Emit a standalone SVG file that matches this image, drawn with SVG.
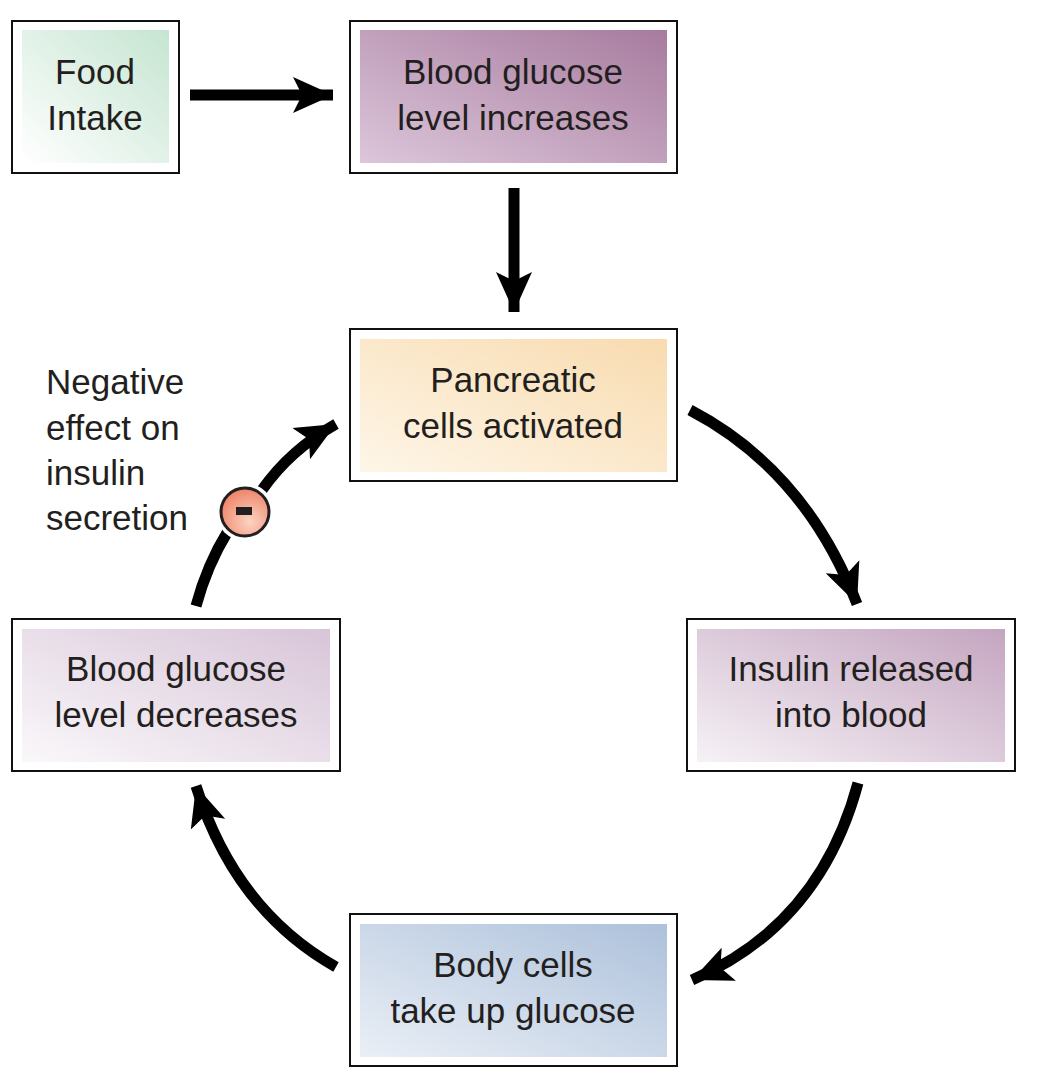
<svg xmlns="http://www.w3.org/2000/svg" width="1047" height="1080" viewBox="0 0 1047 1080">
<style>
.outer{fill:#fff;stroke:#111;stroke-width:2}
.t{font-family:"Liberation Sans",Arial,sans-serif;font-size:35px;fill:#231f20;text-anchor:middle}
.c{fill:none;stroke:#000;stroke-width:11}
</style>
<defs>
<marker id="ah" markerUnits="userSpaceOnUse" markerWidth="44" markerHeight="40" refX="40" refY="20" orient="auto"><path d="M0,2 L40,20 L0,38 L9,20 Z" fill="#000"/></marker>
<linearGradient id="gG" x1="0" y1="1" x2="1" y2="0"><stop offset="0" stop-color="#fff"/><stop offset="1" stop-color="#c5e5d1"/></linearGradient>
<linearGradient id="gP" x1="0" y1="1" x2="1" y2="0"><stop offset="0" stop-color="#dcc6da"/><stop offset="1" stop-color="#a77b9e"/></linearGradient>
<linearGradient id="gY" x1="0" y1="1" x2="1" y2="0"><stop offset="0" stop-color="#fef6e8"/><stop offset="1" stop-color="#f8dbaf"/></linearGradient>
<linearGradient id="gI" x1="0" y1="1" x2="1" y2="0"><stop offset="0" stop-color="#f6f2f6"/><stop offset="1" stop-color="#c4a5c0"/></linearGradient>
<linearGradient id="gB" x1="0" y1="1" x2="1" y2="0"><stop offset="0" stop-color="#eaeff6"/><stop offset="1" stop-color="#adc1db"/></linearGradient>
<linearGradient id="gD" x1="0" y1="1" x2="1" y2="0"><stop offset="0" stop-color="#faf8fa"/><stop offset="1" stop-color="#d8c5d8"/></linearGradient>
<radialGradient id="gM" cx="0.6" cy="0.7" r="0.7"><stop offset="0" stop-color="#fcd3c2"/><stop offset="1" stop-color="#ee8468"/></radialGradient>
</defs>
<rect width="1047" height="1080" fill="#fff"/>
<g id="connectors">
<path class="c" d="M190,95 H333" marker-end="url(#ah)"/>
<path class="c" d="M514,188 V312" marker-end="url(#ah)"/>
<path class="c" d="M690,410 Q805,470 857,604" marker-end="url(#ah)"/>
<path class="c" d="M858,783 Q820,925 692,980" marker-end="url(#ah)"/>
<path class="c" d="M336,967 Q235,910 196,786" marker-end="url(#ah)"/>
<path class="c" d="M196,606 Q207,565 228,531"/>
<path class="c" d="M262,490 Q290,450 336,424" marker-end="url(#ah)"/>
</g>
<g id="food"><rect class="outer" x="12" y="21" width="167" height="152"/><rect x="22" y="30" width="147" height="133" fill="url(#gG)"/><text class="t" x="95" y="84">Food</text><text class="t" x="95" y="130">Intake</text></g>
<g id="increase"><rect class="outer" x="350" y="21" width="327" height="152"/><rect x="360" y="30" width="307" height="133" fill="url(#gP)"/><text class="t" x="513" y="84">Blood glucose</text><text class="t" x="513" y="130">level increases</text></g>
<g id="pancreatic"><rect class="outer" x="350" y="329" width="327" height="152"/><rect x="360" y="339" width="307" height="133" fill="url(#gY)"/><text class="t" x="513" y="392">Pancreatic</text><text class="t" x="513" y="438">cells activated</text></g>
<g id="insulin"><rect class="outer" x="687" y="619" width="328" height="152"/><rect x="697" y="629" width="308" height="133" fill="url(#gI)"/><text class="t" x="851" y="681">Insulin released</text><text class="t" x="851" y="727">into blood</text></g>
<g id="body"><rect class="outer" x="350" y="914" width="327" height="152"/><rect x="360" y="924" width="307" height="133" fill="url(#gB)"/><text class="t" x="513" y="977">Body cells</text><text class="t" x="513" y="1023">take up glucose</text></g>
<g id="decrease"><rect class="outer" x="12" y="619" width="328" height="152"/><rect x="22" y="629" width="308" height="133" fill="url(#gD)"/><text class="t" x="176" y="681">Blood glucose</text><text class="t" x="176" y="727">level decreases</text></g>
<g id="negative">
<text class="t" style="text-anchor:start" x="46" y="394">Negative</text>
<text class="t" style="text-anchor:start" x="46" y="440">effect on</text>
<text class="t" style="text-anchor:start" x="46" y="485">insulin</text>
<text class="t" style="text-anchor:start" x="46" y="530">secretion</text>
<circle cx="245" cy="512" r="29" fill="#fff"/>
<circle cx="245" cy="512" r="24" fill="url(#gM)" stroke="#231f20" stroke-width="3"/>
<rect x="236" y="507" width="16" height="8" fill="#231f20"/>
</g>
</svg>
